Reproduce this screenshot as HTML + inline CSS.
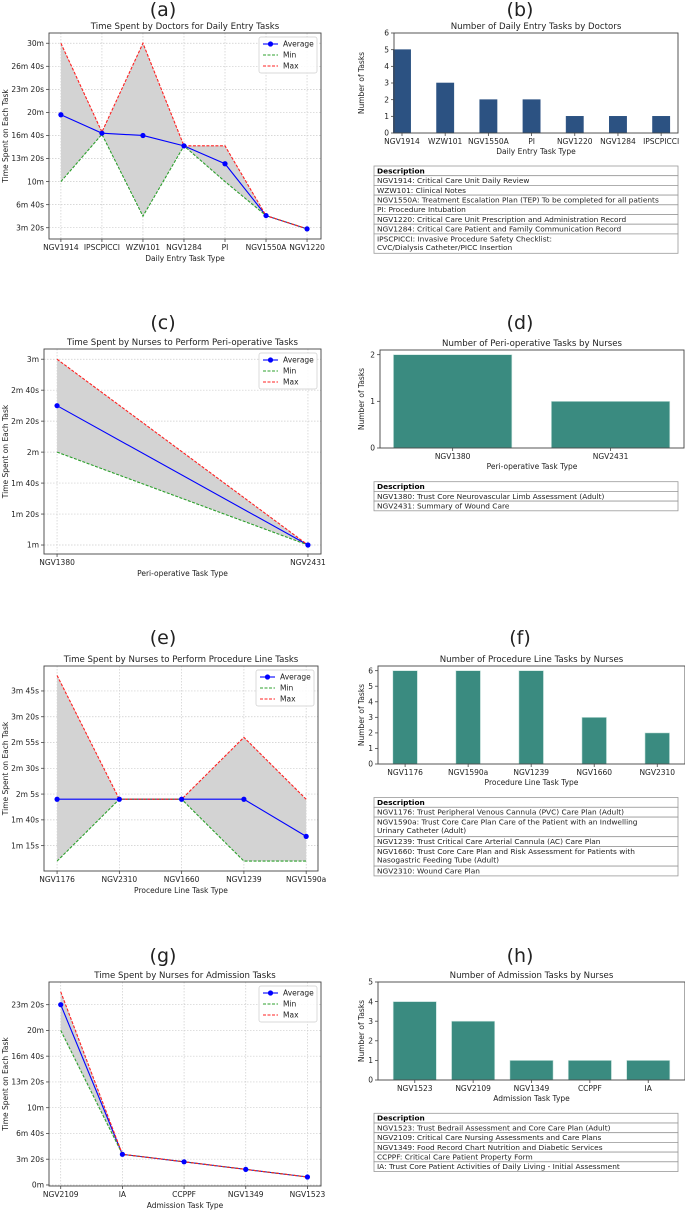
<!DOCTYPE html>
<html><head><meta charset="utf-8">
<style>
html,body{margin:0;padding:0;background:#fff;}
svg{display:block;font-family:"DejaVu Sans","Liberation Sans",sans-serif;}
</style></head>
<body>
<svg id="fig" width="685" height="1210" viewBox="0 0 685 1210" xmlns="http://www.w3.org/2000/svg"></svg>
<script>
// ---- data (a) ----
const aCats = ["NGV1914","IPSCPICCI","WZW101","NGV1284","PI","NGV1550A","NGV1220"];
const aAvg = [1180,1020,1000,910,755,305,190];
const aMin = [600,1010,300,910,600,305,190];
const aMax = [1800,1030,1800,910,910,305,190];
const aTickVals2 = [200,400,600,800,1000,1200,1400,1600,1800];
const aTickLabels = ["3m 20s","6m 40s","10m","13m 20s","16m 40s","20m","23m 20s","26m 40s","30m"];
// ---- data (b) ----
const bCats = ["NGV1914","WZW101","NGV1550A","PI","NGV1220","NGV1284","IPSCPICCI"];
const bVals = [5,3,2,2,1,1,1];
const bTicks = [0,1,2,3,4,5,6];
const bDesc = ["NGV1914: Critical Care Unit Daily Review","WZW101: Clinical Notes","NGV1550A: Treatment Escalation Plan (TEP) To be completed for all patients","PI: Procedure Intubation","NGV1220: Critical Care Unit Prescription and Administration Record","NGV1284: Critical Care Patient and Family Communication Record","IPSCPICCI: Invasive Procedure Safety Checklist:\nCVC/Dialysis Catheter/PICC Insertion"];
// ---- data (c) ----
const cCats = ["NGV1380","NGV2431"];
const cAvg = [150,60];
const cMin = [120,60];
const cMax = [180,60];
const cTickVals = [60,80,100,120,140,160,180];
const cTickLabels = ["1m","1m 20s","1m 40s","2m","2m 20s","2m 40s","3m"];
// ---- data (d) ----
const dCats = ["NGV1380","NGV2431"];
const dVals = [2,1];
const dTicks = [0,1,2];
const dDesc = ["NGV1380: Trust Core Neurovascular Limb Assessment (Adult)","NGV2431: Summary of Wound Care"];
// ---- data (e) ----
const eCats = ["NGV1176","NGV2310","NGV1660","NGV1239","NGV1590a"];
const eAvg = [120,120,120,120,84];
const eMin = [60,120,120,60,60];
const eMax = [240,120,120,180,120];
const eTickVals = [75,100,125,150,175,200,225];
const eTickLabels = ["1m 15s","1m 40s","2m 5s","2m 30s","2m 55s","3m 20s","3m 45s"];
// ---- data (f) ----
const fCats = ["NGV1176","NGV1590a","NGV1239","NGV1660","NGV2310"];
const fVals = [6,6,6,3,2];
const fTicks = [0,1,2,3,4,5,6];
const fDesc = ["NGV1176: Trust Peripheral Venous Cannula (PVC) Care Plan (Adult)","NGV1590a: Trust Core Care Plan Care of the Patient with an Indwelling\nUrinary Catheter (Adult)","NGV1239: Trust Critical Care Arterial Cannula (AC) Care Plan","NGV1660: Trust Core Care Plan and Risk Assessment for Patients with\nNasogastric Feeding Tube (Adult)","NGV2310: Wound Care Plan"];
// ---- data (g) ----
const gCats = ["NGV2109","IA","CCPPF","NGV1349","NGV1523"];
const gAvg = [1400,238,180,121,62];
const gMin = [1200,238,180,121,62];
const gMax = [1500,238,180,121,62];
const gTickVals = [0,200,400,600,800,1000,1200,1400];
const gTickLabels = ["0m","3m 20s","6m 40s","10m","13m 20s","16m 40s","20m","23m 20s"];
// ---- data (h) ----
const hCats = ["NGV1523","NGV2109","NGV1349","CCPPF","IA"];
const hVals = [4,3,1,1,1];
const hTicks = [0,1,2,3,4,5];
const hDesc = ["NGV1523: Trust Bedrail Assessment and Core Care Plan (Adult)","NGV2109: Critical Care Nursing Assessments and Care Plans","NGV1349: Food Record Chart Nutrition and Diabetic Services","CCPPF: Critical Care Patient Property Form","IA: Trust Core Patient Activities of Daily Living - Initial Assessment"];

const NS = "http://www.w3.org/2000/svg";
const fig = document.getElementById('fig');
function mk(tag, attrs, parent) {
  const e = document.createElementNS(NS, tag);
  for (const k in attrs) e.setAttribute(k, attrs[k]);
  (parent || fig).appendChild(e);
  return e;
}
function lin(d0, d1, r0, r1) { return v => r0 + (v - d0) / (d1 - d0) * (r1 - r0); }
function txt(x, y, s, size, anchor, parent, extra) {
  const t = mk('text', Object.assign({x: x, y: y, 'font-size': size, 'text-anchor': anchor || 'middle', fill: '#222'}, extra || {}), parent);
  t.textContent = s;
  return t;
}

function panelLabel(x, y, s) {
  const t = txt(x, y, s, 19, 'middle');
  
  
}

function lineChart(c) {
  const g = mk('g', {});
  
  
  const X = lin(c.xdom[0], c.xdom[1], c.x0, c.x1);
  const Y = lin(c.ydom[0], c.ydom[1], c.y1, c.y0);
  c.cats.forEach((cat, i) => {
    const l = mk('line', {x1: X(i), x2: X(i), y1: c.y0, y2: c.y1, stroke: '#ccc', 'stroke-width': 0.7, 'stroke-dasharray': '1.5,1.5'}, g);
    
    
  });
  c.tickVals.forEach((v, i) => {
    const l = mk('line', {x1: c.x0, x2: c.x1, y1: Y(v), y2: Y(v), stroke: '#ccc', 'stroke-width': 0.7, 'stroke-dasharray': '1.5,1.5'}, g);
    
    
  });
  let pts = c.max.map((v, i) => X(i) + ',' + Y(v));
  pts = pts.concat(c.min.map((v, i) => X(i) + ',' + Y(v)).reverse());
  const band = mk('polygon', {points: pts.join(' '), fill: '#d3d3d3', stroke: 'none'}, g);
  
  
  const avgLine = mk('polyline', {points: c.avg.map((v, i) => X(i) + ',' + Y(v)).join(' '), fill: 'none', stroke: '#0000ff', 'stroke-width': 1.1}, g);
  
  
  const minLine = mk('polyline', {points: c.min.map((v, i) => X(i) + ',' + Y(v)).join(' '), fill: 'none', stroke: '#2ca02c', 'stroke-width': 1.1, 'stroke-dasharray': '3,1.5'}, g);
  
  
  const maxLine = mk('polyline', {points: c.max.map((v, i) => X(i) + ',' + Y(v)).join(' '), fill: 'none', stroke: '#ff2020', 'stroke-width': 1.1, 'stroke-dasharray': '3,1.5'}, g);
  
  
  c.avg.forEach((v, i) => {
    const p = mk('circle', {cx: X(i), cy: Y(v), r: 2.6, fill: '#0000ff'}, g);
    
    
  });
  const fr = mk('rect', {x: c.x0, y: c.y0, width: c.x1 - c.x0, height: c.y1 - c.y0, fill: 'none', stroke: '#444', 'stroke-width': 0.9}, g);
  
  
  c.cats.forEach((cat, i) => {
    mk('line', {x1: X(i), x2: X(i), y1: c.y1, y2: c.y1 + 3, stroke: '#444', 'stroke-width': 0.8}, g);
    const t = txt(X(i), c.y1 + 11, cat, 7.5, 'middle', g);
    
    
  });
  c.tickVals.forEach((v, i) => {
    mk('line', {x1: c.x0 - 3, x2: c.x0, y1: Y(v), y2: Y(v), stroke: '#444', 'stroke-width': 0.8}, g);
    const t = txt(c.x0 - 5, Y(v) + 2.7, c.tickLabels[i], 7.5, 'end', g);
    
    
  });
  const tt = txt((c.x0 + c.x1) / 2, c.y0 - 4, c.title, 8.6, 'middle', g);
  
  
  const xl = txt((c.x0 + c.x1) / 2, c.y1 + 22, c.xlabel, 7.5, 'middle', g);
  
  
  const cy = (c.y0 + c.y1) / 2;
  const yl = txt(8, cy, 'Time Spent on Each Task', 7.5, 'middle', g, {transform: 'rotate(-90 8 ' + cy + ')'});
  
  
  const lx = c.x1 - 62, ly = c.y0 + 4;
  const lg = mk('g', {}, g);
  
  
  mk('rect', {x: lx, y: ly, width: 58, height: 36, rx: 2, fill: '#fff', 'fill-opacity': 0.85, stroke: '#ccc', 'stroke-width': 0.7}, lg);
  const items = [['Average', '#0000ff', null], ['Min', '#2ca02c', '3,1.5'], ['Max', '#ff2020', '3,1.5']];
  items.forEach((it, k) => {
    const yy = ly + 7 + k * 11;
    const e = mk('g', {}, lg);
    
    
    const a = {x1: lx + 4, x2: lx + 19, y1: yy, y2: yy, stroke: it[1], 'stroke-width': 1.1};
    if (it[2]) a['stroke-dasharray'] = it[2];
    mk('line', a, e);
    if (k === 0) mk('circle', {cx: lx + 11.5, cy: yy, r: 2.6, fill: it[1]}, e);
    txt(lx + 24, yy + 2.7, it[0], 7.5, 'start', e);
  });
}

function barChart(c) {
  const g = mk('g', {});
  
  
  const X = lin(c.xdom[0], c.xdom[1], c.x0, c.x1);
  const Y = lin(0, c.ymax, c.y1, c.y0);
  const bw = X(c.bw) - X(0);
  c.vals.forEach((v, i) => {
    const b = mk('rect', {x: X(i) - bw / 2, y: Y(v), width: bw, height: Y(0) - Y(v), fill: c.color, stroke: c.edge, 'stroke-width': 0.6}, g);
    
    
  });
  const fr = mk('rect', {x: c.x0, y: c.y0, width: c.x1 - c.x0, height: c.y1 - c.y0, fill: 'none', stroke: '#444', 'stroke-width': 0.9}, g);
  
  
  c.cats.forEach((cat, i) => {
    mk('line', {x1: X(i), x2: X(i), y1: c.y1, y2: c.y1 + 3, stroke: '#444', 'stroke-width': 0.8}, g);
    const t = txt(X(i), c.y1 + 11, cat, 7.5, 'middle', g);
    
    
  });
  c.ticks.forEach(v => {
    mk('line', {x1: c.x0 - 3, x2: c.x0, y1: Y(v), y2: Y(v), stroke: '#444', 'stroke-width': 0.8}, g);
    const t = txt(c.x0 - 5, Y(v) + 2.7, String(v), 7.5, 'end', g);
    
    
  });
  const tt = txt((c.x0 + c.x1) / 2, c.y0 - 4, c.title, 8.6, 'middle', g);
  
  
  const xl = txt((c.x0 + c.x1) / 2, c.y1 + 21, c.xlabel, 7.5, 'middle', g);
  
  
  const cy = (c.y0 + c.y1) / 2;
  const yl = txt(364, cy, 'Number of Tasks', 7.5, 'middle', g, {transform: 'rotate(-90 364 ' + cy + ')'});
  
  
  const tb = mk('g', {}, g);
  
  
  let y = c.ty;
  const rows = ['Description'].concat(c.desc);
  rows.forEach((r, k) => {
    const lines = r.split('\n');
    const h = lines.length === 1 ? c.rh : c.rh * 2;
    const row = mk('g', {}, tb);
    
    
    mk('rect', {x: 374, y: y, width: 304, height: h, fill: '#fff', stroke: '#999', 'stroke-width': 0.8}, row);
    lines.forEach((ln, j) => {
      txt(377, y + 7.4 + j * 8.7, ln, 7.4, 'start', row, k === 0 ? {'font-weight': 'bold', fill: '#000'} : {});
    });
    y += h;
  });
}

panelLabel(163, 16, '(a)'); panelLabel(520, 16, '(b)');
panelLabel(163, 329, '(c)'); panelLabel(520, 329, '(d)');
panelLabel(163, 644, '(e)'); panelLabel(520, 644, '(f)');
panelLabel(163, 962, '(g)'); panelLabel(520, 962, '(h)');

lineChart({name: 'chart-a', cats: aCats, avg: aAvg, min: aMin, max: aMax, tickVals: aTickVals2, tickLabels: aTickLabels,
  x0: 49, x1: 321, y0: 33, y1: 239, xdom: [-0.29, 6.34], ydom: [102, 1889],
  title: 'Time Spent by Doctors for Daily Entry Tasks', xlabel: 'Daily Entry Task Type'});
barChart({name: 'chart-b', cats: bCats, vals: bVals, ticks: bTicks, ymax: 6, x0: 394, x1: 678, y0: 33, y1: 133,
  xdom: [-0.185, 6.39], bw: 0.4, color: '#2c5282', edge: '#2c5282', title: 'Number of Daily Entry Tasks by Doctors',
  xlabel: 'Daily Entry Task Type', desc: bDesc, ty: 166, rh: 9.7});
lineChart({name: 'chart-c', cats: cCats, avg: cAvg, min: cMin, max: cMax, tickVals: cTickVals, tickLabels: cTickLabels,
  x0: 44, x1: 321, y0: 349, y1: 554, xdom: [-0.052, 1.052], ydom: [54.2, 186.6],
  title: 'Time Spent by Nurses to Perform Peri-operative Tasks', xlabel: 'Peri-operative Task Type'});
barChart({name: 'chart-d', cats: dCats, vals: dVals, ticks: dTicks, ymax: 2.1, x0: 380, x1: 684, y0: 350, y1: 448,
  xdom: [-0.46, 1.465], bw: 0.75, color: '#3a8b80', edge: '#cfe7e2', title: 'Number of Peri-operative Tasks by Nurses',
  xlabel: 'Peri-operative Task Type', desc: dDesc, ty: 481.7, rh: 9.7});
lineChart({name: 'chart-e', cats: eCats, avg: eAvg, min: eMin, max: eMax, tickVals: eTickVals, tickLabels: eTickLabels,
  x0: 44, x1: 318, y0: 666, y1: 871, xdom: [-0.21, 4.19], ydom: [50.4, 249.2],
  title: 'Time Spent by Nurses to Perform Procedure Line Tasks', xlabel: 'Procedure Line Task Type'});
barChart({name: 'chart-f', cats: fCats, vals: fVals, ticks: fTicks, ymax: 6.3, x0: 378, x1: 685, y0: 666, y1: 764,
  xdom: [-0.43, 4.44], bw: 0.39, color: '#3a8b80', edge: '#cfe7e2', title: 'Number of Procedure Line Tasks by Nurses',
  xlabel: 'Procedure Line Task Type', desc: fDesc, ty: 797.5, rh: 9.8});
lineChart({name: 'chart-g', cats: gCats, avg: gAvg, min: gMin, max: gMax, tickVals: gTickVals, tickLabels: gTickLabels,
  x0: 49, x1: 321, y0: 982, y1: 1186, xdom: [-0.19, 4.22], ydom: [-8, 1576],
  title: 'Time Spent by Nurses for Admission Tasks', xlabel: 'Admission Task Type'});
barChart({name: 'chart-h', cats: hCats, vals: hVals, ticks: hTicks, ymax: 5, x0: 378, x1: 685, y0: 982, y1: 1080,
  xdom: [-0.63, 4.63], bw: 0.74, color: '#3a8b80', edge: '#cfe7e2', title: 'Number of Admission Tasks by Nurses',
  xlabel: 'Admission Task Type', desc: hDesc, ty: 1113.3, rh: 9.7});
</script>
</body></html>
